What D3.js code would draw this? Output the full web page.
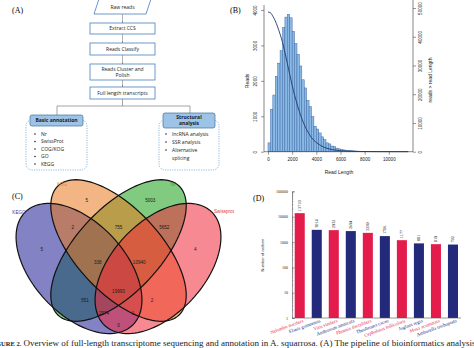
<!DOCTYPE html>
<html>
<head>
<meta charset="utf-8">
<script src="https://cdn.jsdelivr.net/npm/d3@7"></script>
<style>
  body { margin: 0; background: #fff; }
  svg { display: block; }
  .sans { font-family: "Liberation Sans", Arial, sans-serif; }
  .serif { font-family: "Liberation Serif", "Times New Roman", serif; }
  .cal { font-family: "Open Sans", "Liberation Sans", sans-serif; }
</style>
</head>
<body>
<script>
// ---------- data ----------
// (A) pipeline
var flowSteps = ["Raw reads", "Extract CCS", "Reads Classify", "Reads Cluster and|Polish", "Full length transcripts"];
var basicItems = ["Nr", "SwissProt", "COG/KOG", "GO", "KEGG"];
var structItems = ["lncRNA analysis", "SSR analysis", "Alternative|splicing"];

// (B) read length histogram, bins of 200 starting at 0
var binWidth = 200;
var histCounts = [250, 1200, 1600, 2130, 2500, 2850, 3500, 3800, 3880, 3780,
                  3400, 3050, 2750, 2420, 2030, 1800, 1450, 1270, 990, 720,
                  640, 530, 420, 340, 250, 220, 160, 140, 100, 80,
                  60, 50, 42, 35, 28, 22, 18, 15, 12, 10,
                  8, 7, 6, 5, 4, 4, 3, 3, 2, 2,
                  2, 1, 1, 1, 1, 1, 1, 1];
var xTicksB = [0, 2000, 4000, 6000, 8000, 10000];
var yTicksB = [0, 1000, 2000, 3000, 4000];
var y2TicksB = [0, 10000, 20000, 30000, 40000, 50000];

// (C) venn
var vennSets = ["KEGG", "KOG", "Nr", "Swissprot"];
var vennSetColors = ["#3a3aa0", "#d8884a", "#3f9a3f", "#e0304a"];
var vennRegions = ["KEGG", "KOG", "Nr", "Swissprot", "KEGG&KOG", "KOG&Nr", "Nr&Swissprot",
                   "KEGG&KOG&Nr", "KOG&Nr&Swissprot", "all", "KEGG&Nr", "KOG&Swissprot",
                   "KEGG&Nr&Swissprot", "KEGG&KOG&Swissprot", "KEGG&Swissprot"];
var vennCounts = [5, 5, 5003, 4, 2, 755, 5652, 338, 10940, 19993, 551, 2, 2974, 1, 0];

// (D) top species
var species = ["Nelumbo nucifera", "Elaeis guineensis", "Vitis vinifera", "Anthurium amnicola",
               "Phoenix dactylifera", "Theobroma cacao", "Cephalotus follicularis", "Juglans regia",
               "Musa acuminata", "Amborella trichopoda"];
var isoforms = [13710, 3014, 2932, 2694, 2289, 1706, 1177, 881, 819, 792];
var yTicksD = [1, 10, 100, 1000, 10000, 100000];

// ---------- drawing ----------
var svg = d3.select("body").append("svg").attr("width", 474).attr("height", 348);
svg.append("rect").attr("width", 474).attr("height", 348).attr("fill", "#fff");

var defs = svg.append("defs");
defs.append("marker").attr("id", "arr").attr("viewBox", "0 0 6 6")
  .attr("refX", 6).attr("refY", 3).attr("markerWidth", 3).attr("markerHeight", 3)
  .attr("orient", "auto")
  .append("path").attr("d", "M0,0L6,3L0,6z").attr("fill", "#7f7f7f");

// ===== (A) =====
var gA = svg.append("g");
gA.append("text").attr("class", "serif").attr("x", 12).attr("y", 13).attr("font-size", 8).text("(A)");

var stepRows = [[-1, 14], [23, 34], [43, 55], [64, 80], [87, 99]];
var bx0 = 90, bx1 = 155, bcx = 122.5;

stepRows.forEach(function(r, i) {
  if (i === 0) {
    gA.append("path")
      .attr("d", "M99," + r[0] + "L151," + r[0] + "L146," + r[1] + "L94," + r[1] + "Z")
      .attr("fill", "#fff").attr("stroke", "#4a7ebb").attr("stroke-width", 0.8);
  } else {
    gA.append("rect").attr("x", bx0).attr("y", r[0]).attr("width", bx1 - bx0).attr("height", r[1] - r[0])
      .attr("fill", "#fff").attr("stroke", "#4a7ebb").attr("stroke-width", 0.8);
  }
  var lines = flowSteps[i].split("|");
  var cy = (r[0] + r[1]) / 2 + (i === 0 ? 1 : 0);
  lines.forEach(function(t, j) {
    gA.append("text").attr("class", "cal").attr("x", bcx).attr("y", cy + (j - (lines.length - 1) / 2) * 6.5)
      .attr("dy", "0.35em").attr("text-anchor", "middle").attr("font-size", 5).attr("fill", "#222").text(t);
  });
  if (i < stepRows.length - 1) {
    gA.append("line").attr("x1", bcx).attr("x2", bcx).attr("y1", r[1]).attr("y2", stepRows[i + 1][0])
      .attr("stroke", "#7f7f7f").attr("stroke-width", 0.6).attr("marker-end", "url(#arr)");
  }
});

// branches
gA.append("path").attr("d", "M122.5,99V106M57,106H190M57,106V115M190,106V113")
  .attr("stroke", "#7f7f7f").attr("stroke-width", 0.7).attr("fill", "none");

function sideBox(hx0, hx1, hy0, hy1, dx0, dx1, title, items, bulletX) {
  gA.append("rect").attr("x", dx0).attr("y", 120).attr("width", dx1 - dx0).attr("height", 50)
    .attr("rx", 6).attr("fill", "#fff").attr("stroke", "#5b9bd5").attr("stroke-width", 0.7)
    .attr("stroke-dasharray", "1.2,1.2");
  gA.append("rect").attr("x", hx0).attr("y", hy0).attr("width", hx1 - hx0).attr("height", hy1 - hy0)
    .attr("rx", 2).attr("fill", "#9dc3e6").attr("stroke", "#41719c").attr("stroke-width", 0.7);
  var tl = title.split("|");
  tl.forEach(function(t, j) {
    gA.append("text").attr("class", "cal").attr("x", (hx0 + hx1) / 2)
      .attr("y", (hy0 + hy1) / 2 + (j - (tl.length - 1) / 2) * 6)
      .attr("dy", "0.35em").attr("text-anchor", "middle").attr("font-size", 5)
      .attr("font-weight", "bold").attr("fill", "#1a1a1a").text(t);
  });
  var y = 134;
  items.forEach(function(it) {
    var parts = it.split("|");
    gA.append("circle").attr("cx", bulletX).attr("cy", y).attr("r", 0.8).attr("fill", "#222");
    parts.forEach(function(p) {
      gA.append("text").attr("class", "cal").attr("x", bulletX + 6).attr("y", y).attr("dy", "0.35em")
        .attr("font-size", 5).attr("fill", "#222").text(p);
      y += items.length === 5 ? 7.5 : 8;
    });
  });
}
sideBox(30, 83, 115, 126, 26, 87, "Basic annotation", basicItems, 35);
sideBox(163, 215, 113, 128, 159, 219, "Structural|analysis", structItems, 166);

// ===== (B) =====
var gB = svg.append("g");
gB.append("text").attr("class", "serif").attr("x", 230).attr("y", 13).attr("font-size", 8).text("(B)");

var xB = d3.scaleLinear().domain([-330, 12000]).range([264, 413]);
var yB = d3.scaleLinear().domain([0, 4000]).range([151.7, 10]);
var yB2 = d3.scaleLinear().domain([0, 50000]).range([151.7, 8]);

gB.selectAll("rect.bar").data(histCounts).enter().append("rect")
  .attr("class", "bar")
  .attr("x", function(d, i) { return xB(i * binWidth); })
  .attr("width", function(d, i) { return xB((i + 1) * binWidth) - xB(i * binWidth); })
  .attr("y", function(d) { return yB(d); })
  .attr("height", function(d) { return yB(0) - yB(d); })
  .attr("fill", "#8ab8e6").attr("stroke", "#35659f").attr("stroke-width", 0.45);

// reads longer than each bin edge
var total = d3.sum(histCounts);
var above = [];
var acc = 0;
for (var i = 0; i <= histCounts.length; i++) {
  above.push({ x: i * binWidth, v: total - acc });
  if (i < histCounts.length) acc += histCounts[i];
}
gB.append("path").datum(above)
  .attr("d", d3.line().x(function(d) { return xB(d.x); }).y(function(d) { return yB2(d.v); }).curve(d3.curveMonotoneX))
  .attr("fill", "none").attr("stroke", "#23386a").attr("stroke-width", 0.9);

// frame
gB.append("path").attr("d", "M264,5V151.7H413V0").attr("fill", "none").attr("stroke", "#333").attr("stroke-width", 0.6);

var axB = gB.append("g").attr("class", "sans").attr("transform", "translate(0,151.7)")
  .call(d3.axisBottom(xB).tickValues(xTicksB).tickSize(3).tickPadding(3).tickFormat(d3.format("d")));
var ayB = gB.append("g").attr("class", "sans").attr("transform", "translate(264,0)")
  .call(d3.axisLeft(yB).tickValues(yTicksB).tickSize(3).tickFormat(d3.format("d")));
var ayB2 = gB.append("g").attr("class", "sans").attr("transform", "translate(413,0)")
  .call(d3.axisRight(yB2).tickValues(y2TicksB).tickSize(3).tickFormat(d3.format("d")));
[axB, ayB, ayB2].forEach(function(a) {
  a.select(".domain").remove();
  a.selectAll("line").attr("stroke", "#333").attr("stroke-width", 0.5);
  a.selectAll("text").attr("font-size", 4.6).attr("fill", "#222").attr("font-family", null);
});
ayB.selectAll("text").attr("x", null).attr("dy", null).attr("text-anchor", "middle")
  .attr("transform", "translate(-7,0) rotate(-90)");
ayB2.selectAll("text").attr("x", null).attr("dy", null).attr("text-anchor", "middle")
  .attr("transform", "translate(9,0) rotate(-90)");

gB.append("text").attr("class", "sans").attr("font-size", 5).attr("fill", "#222")
  .attr("text-anchor", "middle").attr("transform", "translate(249,81) rotate(-90)").text("Reads");
gB.append("text").attr("class", "sans").attr("font-size", 5).attr("fill", "#222")
  .attr("text-anchor", "middle").attr("transform", "translate(432,80) rotate(-90)").text("reads > read Length");
gB.append("text").attr("class", "sans").attr("font-size", 5).attr("fill", "#222")
  .attr("text-anchor", "middle").attr("x", 339).attr("y", 174).text("Read Length");

// ===== (C) =====
var gC = svg.append("g");
gC.append("text").attr("class", "serif").attr("x", 12).attr("y", 199).attr("font-size", 8).text("(C)");

// same scale on both axes, y up
var vx = d3.scaleLinear().domain([0, 1]).range([-6.5, 243.5]);
var vy = d3.scaleLinear().domain([0, 1]).range([380, 130]);

// ellipse layout in venn units
var vennShapes = [
  { cx: 0.342, cy: 0.446, a: 0.312, b: 0.184, rot: 133, fill: "#1c1c96" },
  { cx: 0.5, cy: 0.518, a: 0.354, b: 0.168, rot: 133, fill: "#e8781e" },
  { cx: 0.5, cy: 0.518, a: 0.354, b: 0.168, rot: 47, fill: "#18a018" },
  { cx: 0.658, cy: 0.446, a: 0.312, b: 0.184, rot: 47, fill: "#f0283a" }
];
var drawOrder = [2, 0, 1, 3];
var tSteps = d3.range(0, 121).map(function(k) { return k / 120 * 2 * Math.PI; });
function ellipsePts(s) {
  var r = s.rot * Math.PI / 180;
  return tSteps.map(function(t) {
    return [s.cx + s.a * Math.cos(t) * Math.cos(r) - s.b * Math.sin(t) * Math.sin(r),
            s.cy + s.a * Math.cos(t) * Math.sin(r) + s.b * Math.sin(t) * Math.cos(r)];
  });
}
var eLine = d3.line().x(function(p) { return vx(p[0]); }).y(function(p) { return vy(p[1]); });
drawOrder.forEach(function(k) {
  gC.append("path").attr("d", eLine(ellipsePts(vennShapes[k])) + "Z")
    .attr("fill", vennShapes[k].fill).attr("fill-opacity", 0.55).attr("stroke", "none");
});
drawOrder.forEach(function(k) {
  gC.append("path").attr("d", eLine(ellipsePts(vennShapes[k])) + "Z")
    .attr("fill", "none").attr("stroke", "#111").attr("stroke-width", 1.2);
});

var vennSetLabelPos = [[0.102, 0.672], [0.274, 0.784], [0.718, 0.784], [0.922, 0.676]];
vennSets.forEach(function(s, i) {
  gC.append("text").attr("class", "sans").attr("x", vx(vennSetLabelPos[i][0])).attr("y", vy(vennSetLabelPos[i][1]))
    .attr("text-anchor", "middle").attr("dy", "0.35em").attr("font-size", 4.6)
    .attr("fill", vennSetColors[i]).text(s);
});

var vennLabelPos = [[0.193, 0.524], [0.373, 0.717], [0.627, 0.717], [0.807, 0.524],
                    [0.317, 0.611], [0.5, 0.611], [0.683, 0.611],
                    [0.417, 0.471], [0.583, 0.471], [0.5, 0.355],
                    [0.366, 0.32], [0.634, 0.32], [0.442, 0.267], [0.558, 0.267], [0.5, 0.217]];
gC.selectAll("text.vn").data(vennCounts).enter().append("text")
  .attr("class", "vn sans")
  .attr("x", function(d, i) { return vx(vennLabelPos[i][0]); })
  .attr("y", function(d, i) { return vy(vennLabelPos[i][1]); })
  .attr("dy", "0.35em").attr("text-anchor", "middle").attr("font-size", 4.6).attr("fill", "#1a1a1a")
  .text(function(d) { return d; });

// ===== (D) =====
var gD = svg.append("g");
gD.append("text").attr("class", "serif").attr("x", 253).attr("y", 201).attr("font-size", 8).text("(D)");

var xD = d3.scaleBand().domain(species).range([291.3, 461.4]).paddingInner(0.41).paddingOuter(0.2);
var yD = d3.scaleLog().domain([1, 100000]).range([318, 191.3]);
var barCols = ["#e31c4b", "#232a7c"];

gD.selectAll("rect.bd").data(isoforms).enter().append("rect")
  .attr("class", "bd")
  .attr("x", function(d, i) { return xD(species[i]); })
  .attr("width", xD.bandwidth())
  .attr("y", function(d) { return yD(d); })
  .attr("height", function(d) { return yD(1) - yD(d); })
  .attr("fill", function(d, i) { return barCols[i % 2]; });

gD.selectAll("text.vl").data(isoforms).enter().append("text")
  .attr("class", "vl serif").attr("font-size", 4.3).attr("fill", "#222")
  .attr("transform", function(d, i) {
    return "translate(" + (xD(species[i]) + xD.bandwidth() / 2 + 1.5) + "," + (yD(d) - 2) + ") rotate(-90)";
  })
  .text(function(d) { return d; });

// axes
gD.append("line").attr("x1", 292).attr("x2", 461).attr("y1", 318).attr("y2", 318)
  .attr("stroke", "#555").attr("stroke-width", 0.6);
var ayD = gD.append("g").attr("class", "serif").attr("transform", "translate(292,0)")
  .call(d3.axisLeft(yD).tickValues(yTicksD).tickSize(-2.5).tickPadding(4).tickFormat(d3.format("d")));
ayD.select(".domain").attr("stroke", "#555").attr("stroke-width", 0.6);
ayD.selectAll("line").attr("stroke", "#555").attr("stroke-width", 0.5);
ayD.selectAll("text").attr("font-size", 4).attr("fill", "#222").attr("font-family", null);
var minorD = [];
yTicksD.slice(0, -1).forEach(function(t) { d3.range(2, 10).forEach(function(m) { minorD.push(t * m); }); });
gD.selectAll("line.mn").data(minorD).enter().append("line")
  .attr("x1", 292).attr("x2", 293.3)
  .attr("y1", function(d) { return yD(d); }).attr("y2", function(d) { return yD(d); })
  .attr("stroke", "#555").attr("stroke-width", 0.4);

gD.append("text").attr("class", "sans").attr("font-size", 4).attr("fill", "#222")
  .attr("text-anchor", "middle").attr("transform", "translate(264,255) rotate(-90)").text("Number of isoform");

gD.selectAll("text.sp").data(species).enter().append("text")
  .attr("class", "sp serif").attr("font-size", 4.8)
  .attr("fill", function(d, i) { return barCols[i % 2]; })
  .attr("text-anchor", "end")
  .attr("transform", function(d) { return "translate(" + (xD(d) + xD.bandwidth() / 2 + 4) + ",322) rotate(-20)"; })
  .text(function(d) { return d; });

// ===== caption (cut by the page edges, as in the source) =====
var cap = svg.append("text").attr("class", "serif").attr("x", -10.5).attr("y", 345.5).attr("font-size", 9).attr("fill", "#222");
cap.append("tspan").attr("font-weight", "bold").attr("font-size", 6.5).text("FIGURE 2.");
cap.append("tspan").text(" Overview of full-length transcriptome sequencing and annotation in A. squarrosa. (A) The pipeline of bioinformatics analysis");
</script>
</body>
</html>
